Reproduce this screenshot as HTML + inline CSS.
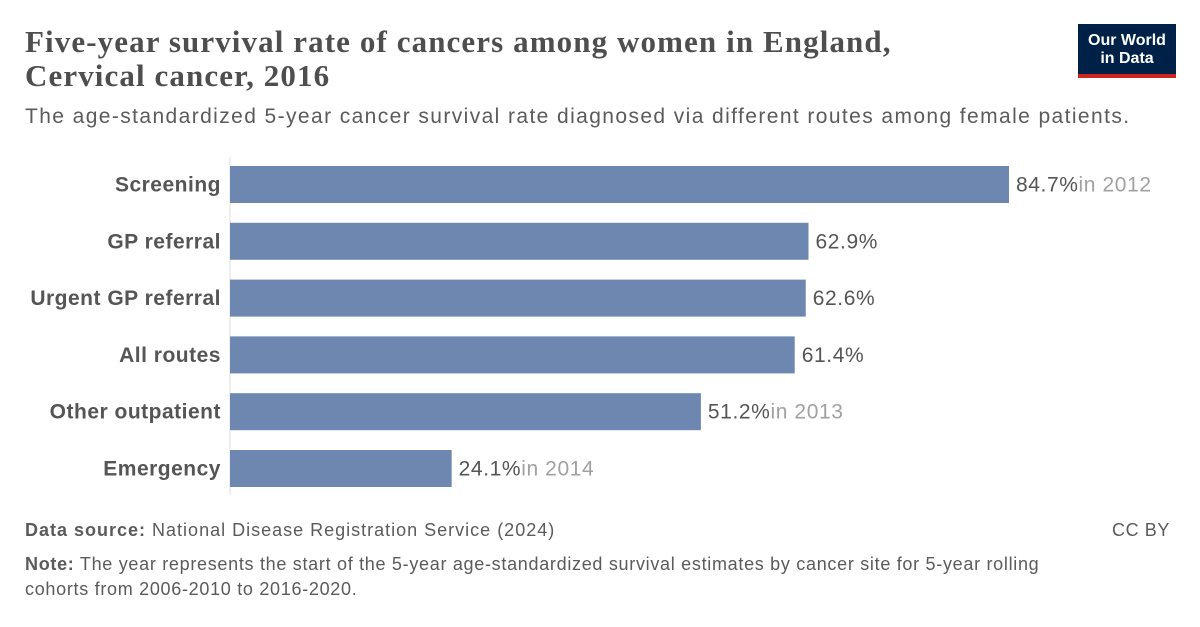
<!DOCTYPE html>
<html><head><meta charset="utf-8"><style>
body{margin:0;width:1200px;height:627px;background:#fff;font-family:"Liberation Sans",sans-serif;position:relative;overflow:hidden}
.a{position:absolute}
</style></head><body>
<div class="a" style="left:25px;top:25px;font-family:'Liberation Serif',serif;font-weight:bold;font-size:31px;line-height:34px;color:#4e4e4e;letter-spacing:1.1px;white-space:nowrap">Five-year survival rate of cancers among women in England,<br>Cervical cancer, 2016</div>
<div class="a" style="left:1078px;top:24px;width:98px;height:54px;background:#002147;color:#fff;text-align:center;font-size:16px;font-weight:bold;line-height:18px;box-sizing:border-box;padding-top:8px;border-bottom:4px solid #ce261e">Our World<br>in Data</div>
<div class="a" style="left:25px;top:105px;font-size:21px;letter-spacing:1.4px;color:#5b5b5b;white-space:nowrap">The age-standardized 5-year cancer survival rate diagnosed via different routes among female patients.</div>
<svg class="a" style="left:0;top:0" width="1200" height="627" id="chart"></svg>
<div class="a" style="left:25px;top:520px;font-size:18px;letter-spacing:1px;color:#5b5b5b"><b>Data source:</b> National Disease Registration Service (2024)</div>
<div class="a" style="right:30px;top:520px;font-size:18px;letter-spacing:0.6px;color:#5b5b5b">CC BY</div>
<div class="a" style="left:25px;top:552px;width:1075px;font-size:18px;letter-spacing:0.7px;line-height:25px;color:#5b5b5b"><b>Note:</b> The year represents the start of the 5-year age-standardized survival estimates by cancer site for 5-year rolling cohorts from 2006-2010 to 2016-2020.</div>
<script>
const categories=["Screening","GP referral","Urgent GP referral","All routes","Other outpatient","Emergency"];
const values=[84.7,62.9,62.6,61.4,51.2,24.1];
const yearNotes=["in 2012","","","","in 2013","in 2014"];
const svg=document.getElementById('chart');const NS='http://www.w3.org/2000/svg';
const x0=230,k=779/84.7,top0=166,pitch=56.8,bh=37;
const x=v=>x0+v*k;
function mk(t,a){const e=document.createElementNS(NS,t);for(const n in a)e.setAttribute(n,a[n]);svg.appendChild(e);return e;}
const ax=mk('line',{x1:x0,x2:x0,y1:157,y2:495,stroke:'#ddd','stroke-width':1});


categories.forEach((c,i)=>{
const y=top0+i*pitch;
const r=mk('rect',{x:x0,y:y,width:x(values[i])-x0,height:bh,fill:'#6d87b0'});


const l=mk('text',{x:221,y:y+bh/2+7,'text-anchor':'end','font-size':21,'letter-spacing':0.5,'font-weight':'bold',fill:'#555','font-family':'Liberation Sans'});
l.textContent=c;


const v=mk('text',{x:x(values[i])+7,y:y+bh/2+7,'font-size':21,'letter-spacing':0.6,fill:'#555','font-family':'Liberation Sans'});
v.textContent=values[i].toFixed(1)+'%';


if(yearNotes[i]){const s=document.createElementNS(NS,'tspan');s.setAttribute('fill','#a1a1a1');s.textContent=yearNotes[i];v.appendChild(s);}
});
</script>
</body></html>
